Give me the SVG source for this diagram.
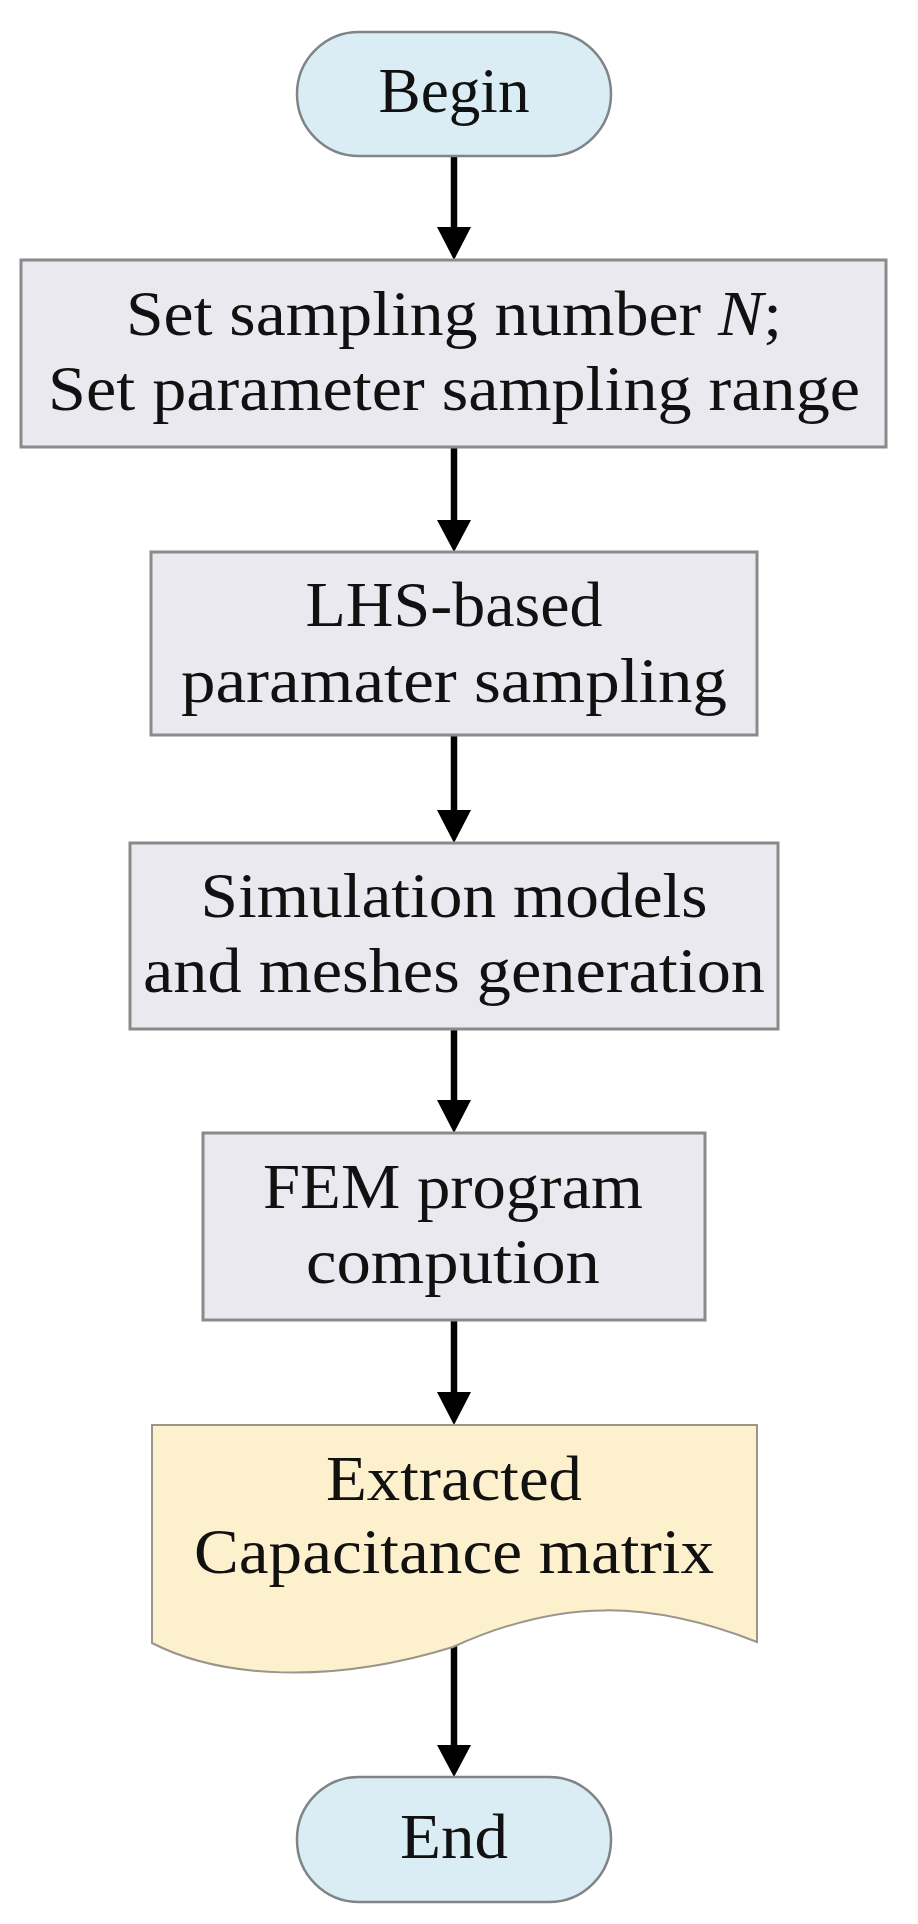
<svg xmlns="http://www.w3.org/2000/svg" width="918" height="1924" viewBox="0 0 918 1924">
<style>
.term{fill:#dbedf4;stroke:#7f8487;stroke-width:2.5}
.proc{fill:#ebe9f0;stroke:#8a8a8a;stroke-width:3}
.doc{fill:#fdf1cd;stroke:#9a968c;stroke-width:2}
.t{font-family:"Liberation Serif","Times New Roman",serif;font-size:63px;fill:#111;text-anchor:middle}
.ln{stroke:#000;stroke-width:6.5;fill:none}
.hd{fill:#000}
</style>
<rect width="918" height="1924" fill="#fff"/>
<g id="connectors">
<line class="ln" x1="454" y1="156" x2="454" y2="232"/><polygon class="hd" points="437,227 471,227 454,260"/>
<line class="ln" x1="454" y1="447" x2="454" y2="525"/><polygon class="hd" points="437,520 471,520 454,552"/>
<line class="ln" x1="454" y1="735" x2="454" y2="815"/><polygon class="hd" points="437,810 471,810 454,843"/>
<line class="ln" x1="454" y1="1029" x2="454" y2="1105"/><polygon class="hd" points="437,1100 471,1100 454,1133"/>
<line class="ln" x1="454" y1="1320" x2="454" y2="1397"/><polygon class="hd" points="437,1392 471,1392 454,1425"/>
<line class="ln" x1="454" y1="1640" x2="454" y2="1750"/><polygon class="hd" points="437,1745 471,1745 454,1777"/>
</g>
<g id="begin">
<rect class="term" x="297" y="32" width="314" height="124" rx="62" ry="62"/>
<text class="t" x="454" y="112" textLength="151" lengthAdjust="spacingAndGlyphs">Begin</text>
</g>
<g id="set-sampling">
<rect class="proc" x="21" y="260" width="865" height="187"/>
<text class="t" x="454" y="335" textLength="656" lengthAdjust="spacingAndGlyphs">Set sampling number <tspan font-style="italic">N</tspan>;</text>
<text class="t" x="454" y="410" textLength="812" lengthAdjust="spacingAndGlyphs">Set parameter sampling range</text>
</g>
<g id="lhs-sampling">
<rect class="proc" x="151" y="552" width="606" height="183"/>
<text class="t" x="454" y="626" textLength="297" lengthAdjust="spacingAndGlyphs">LHS-based</text>
<text class="t" x="454" y="702" textLength="546" lengthAdjust="spacingAndGlyphs">paramater sampling</text>
</g>
<g id="simulation">
<rect class="proc" x="130" y="843" width="648" height="186"/>
<text class="t" x="454" y="917" textLength="507" lengthAdjust="spacingAndGlyphs">Simulation models</text>
<text class="t" x="454" y="992" textLength="622" lengthAdjust="spacingAndGlyphs">and meshes generation</text>
</g>
<g id="fem">
<rect class="proc" x="203" y="1133" width="502" height="187"/>
<text class="t" x="453" y="1208" textLength="380" lengthAdjust="spacingAndGlyphs">FEM program</text>
<text class="t" x="453" y="1283" textLength="294" lengthAdjust="spacingAndGlyphs">compution</text>
</g>
<g id="extracted">
<path class="doc" d="M152,1425 H757 V1642 C650,1600 560,1598 453,1647 C330,1685 220,1678 152,1643 Z"/>
<text class="t" x="454" y="1500" textLength="256" lengthAdjust="spacingAndGlyphs">Extracted</text>
<text class="t" x="454" y="1573" textLength="520" lengthAdjust="spacingAndGlyphs">Capacitance matrix</text>
</g>
<g id="end">
<rect class="term" x="297" y="1777" width="314" height="125" rx="62" ry="62"/>
<text class="t" x="454" y="1858" textLength="108" lengthAdjust="spacingAndGlyphs">End</text>
</g>
</svg>
